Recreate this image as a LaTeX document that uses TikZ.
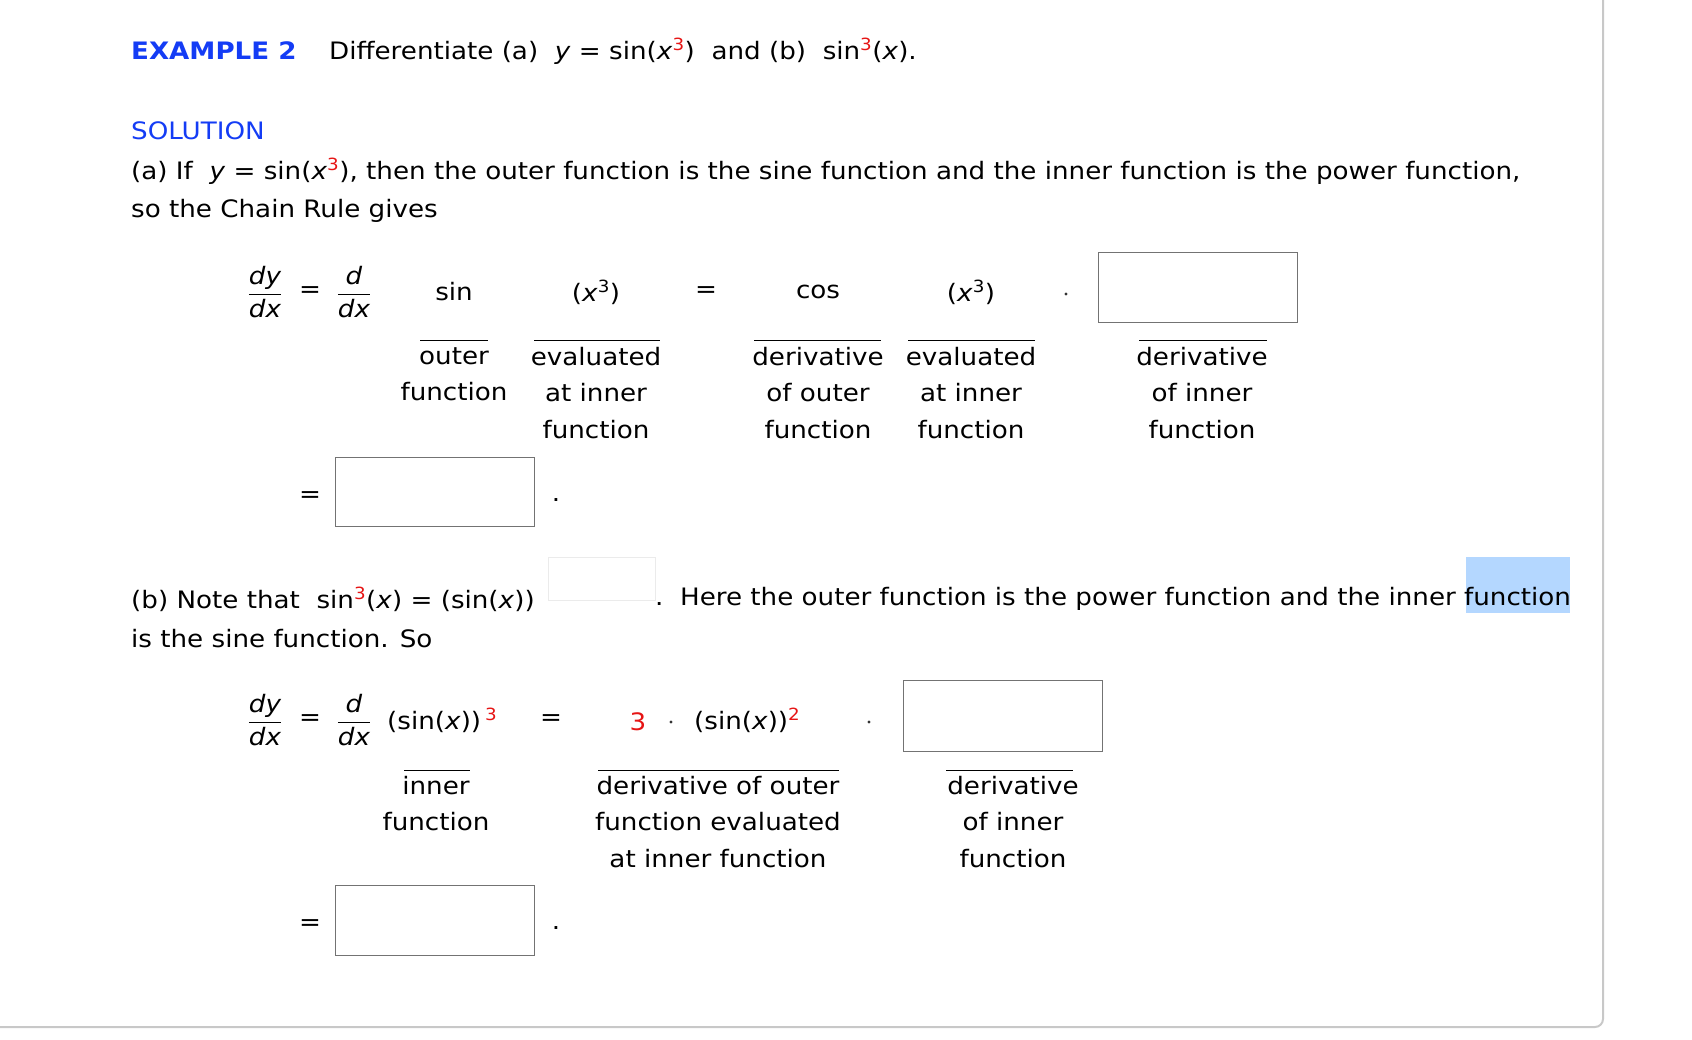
\documentclass[tikz,border=0pt]{standalone}
\usepackage{fontspec}
\setmainfont[FakeStretch=1.09]{DejaVu Sans}
\usepackage{unicode-math}
\setmathfont{Latin Modern Math}
\definecolor{exblue}{RGB}{20,60,245}
\definecolor{ansred}{RGB}{230,20,20}
\definecolor{hl}{RGB}{180,215,255}
\definecolor{frame}{RGB}{200,200,200}
\begin{document}
\begin{tikzpicture}[x=1pt,y=-1pt,
  every node/.style={inner sep=0pt,font=\fontsize{24}{30}\selectfont},
  t/.style={anchor=west},
  c/.style={anchor=center},
  mdot/.style={circle,fill=black!80,minimum size=3.2pt,inner sep=0pt},
  lbl/.style={align=center,anchor=north,font=\fontsize{24}{36.5}\selectfont},
  ansbox/.style={draw=black!55,line width=1.2pt},
  bar/.style={line width=1pt}]
\useasboundingbox (0,0) rectangle (1692,1040);
\draw[frame,line width=2pt,rounded corners=8pt] (1603,0) -- (1603,1027) -- (0,1027);
\newcommand{\ix}[1]{\textit{#1}}
\newcommand{\fr}[2]{$\displaystyle\frac{\text{\itshape #1}}{\text{\itshape #2}}$}
\node[t] (ex) at (131,51) {\textcolor{exblue}{\bfseries EXAMPLE 2}};
\node[t] (q) at (329,51) {Differentiate (a)\ \ \ix{y} = sin(\ix{x}\textsuperscript{\textcolor{ansred}{3}})\ \ and (b)\ \ sin\textsuperscript{\textcolor{ansred}{3}}(\ix{x}).};
\node[t] (sol) at (131,131) {\textcolor{exblue}{SOLUTION}};
\node[t] (la) at (131,171) {(a) If\ \ \ix{y} = sin(\ix{x}\textsuperscript{\textcolor{ansred}{3}}),\ then the outer function is the sine function and the inner function is the power function,};
\node[t] (lb) at (131,211) {so the Chain Rule gives};
% row 1
\node[c] (dy1) at (265,292) {\fr{dy}{dx}};
\node[c] (e1) at (310,292) {=};
\node[c] (d1) at (354,292) {\fr{d}{dx}};
\node[c] (s1) at (454,292) {sin};
\node[c] (x1) at (596,292) {(\ix{x}\textsuperscript{3})};
\node[c] (e2) at (706,292) {=};
\node[c] (c1) at (818,292) {cos};
\node[c] (x2) at (971,292) {(\ix{x}\textsuperscript{3})};
\node[mdot] (dot1) at (1066,294) {};
\node[ansbox,minimum width=199pt,minimum height=70pt,anchor=north west] (b1) at (1098,252) {};
\coordinate (u1a) at (420,341); \coordinate (u1b) at (488,341);
\coordinate (u2a) at (534,341); \coordinate (u2b) at (660,341);
\coordinate (u3a) at (754,341); \coordinate (u3b) at (881,341);
\coordinate (u4a) at (908,341); \coordinate (u4b) at (1035,341);
\coordinate (u5a) at (1139,341); \coordinate (u5b) at (1267,341);
\foreach \a/\b in {u1a/u1b,u2a/u2b,u3a/u3b,u4a/u4b,u5a/u5b} \draw[bar] (\a) -- (\b);
\node[lbl] (l1) at (454,347) {outer\\function};
\node[lbl] (l2) at (596,347) {evaluated\\at inner\\function};
\node[lbl] (l3) at (818,347) {derivative\\of outer\\function};
\node[lbl] (l4) at (971,347) {evaluated\\at inner\\function};
\node[lbl] (l5) at (1202,347) {derivative\\of inner\\function};
\node[c] (e3) at (310,497) {=};
\node[ansbox,minimum width=199pt,minimum height=69pt,anchor=north west] (b2) at (335,457) {};
\node[c] (dot2) at (556,500) {.};
% part b
\fill[hl] (1466,557) rectangle (1570,613);
\draw[black!8,line width=1pt] (548,557) rectangle (655,600);
\node[t] (pb1) at (131,599) {(b) Note that\ \ sin\textsuperscript{\textcolor{ansred}{3}}(\ix{x}) = (sin(\ix{x}))};
\node[t] (pb2) at (655,599) {.\ \ Here the outer function is the power function and the inner function};
\node[t] (pb3) at (131,639) {is the sine function. So};
% row 2
\node[c] (dy2) at (265,720) {\fr{dy}{dx}};
\node[c] (e4) at (310,720) {=};
\node[c] (d2) at (354,720) {\fr{d}{dx}};
\node[t] (s2) at (387,720) {(sin(\ix{x}))\,\textsuperscript{\textcolor{ansred}{3}}};
\node[c] (e5) at (551,720) {=};
\node[c] (r3) at (638,722) {\textcolor{ansred}{3}};
\node[mdot] (dot3) at (671,722) {};
\node[t] (s3) at (694,720) {(sin(\ix{x}))\textsuperscript{\textcolor{ansred}{2}}};
\node[mdot] (dot4) at (869,722) {};
\node[ansbox,minimum width=199pt,minimum height=71pt,anchor=north west] (b3) at (903,680) {};
\coordinate (v1a) at (404,770); \coordinate (v1b) at (470,770);
\coordinate (v2a) at (598,770); \coordinate (v2b) at (839,770);
\coordinate (v3a) at (946,770); \coordinate (v3b) at (1073,770);
\foreach \a/\b in {v1a/v1b,v2a/v2b,v3a/v3b} \draw[bar] (\a) -- (\b);
\node[lbl] (m1) at (436,776) {inner\\function};
\node[lbl] (m2) at (718,776) {derivative of outer\\function evaluated\\at inner function};
\node[lbl] (m3) at (1013,776) {derivative\\of inner\\function};
\node[c] (e6) at (310,925) {=};
\node[ansbox,minimum width=199pt,minimum height=70pt,anchor=north west] (b4) at (335,885) {};
\node[c] (dot5) at (556,928) {.};
\end{tikzpicture}
\end{document}
